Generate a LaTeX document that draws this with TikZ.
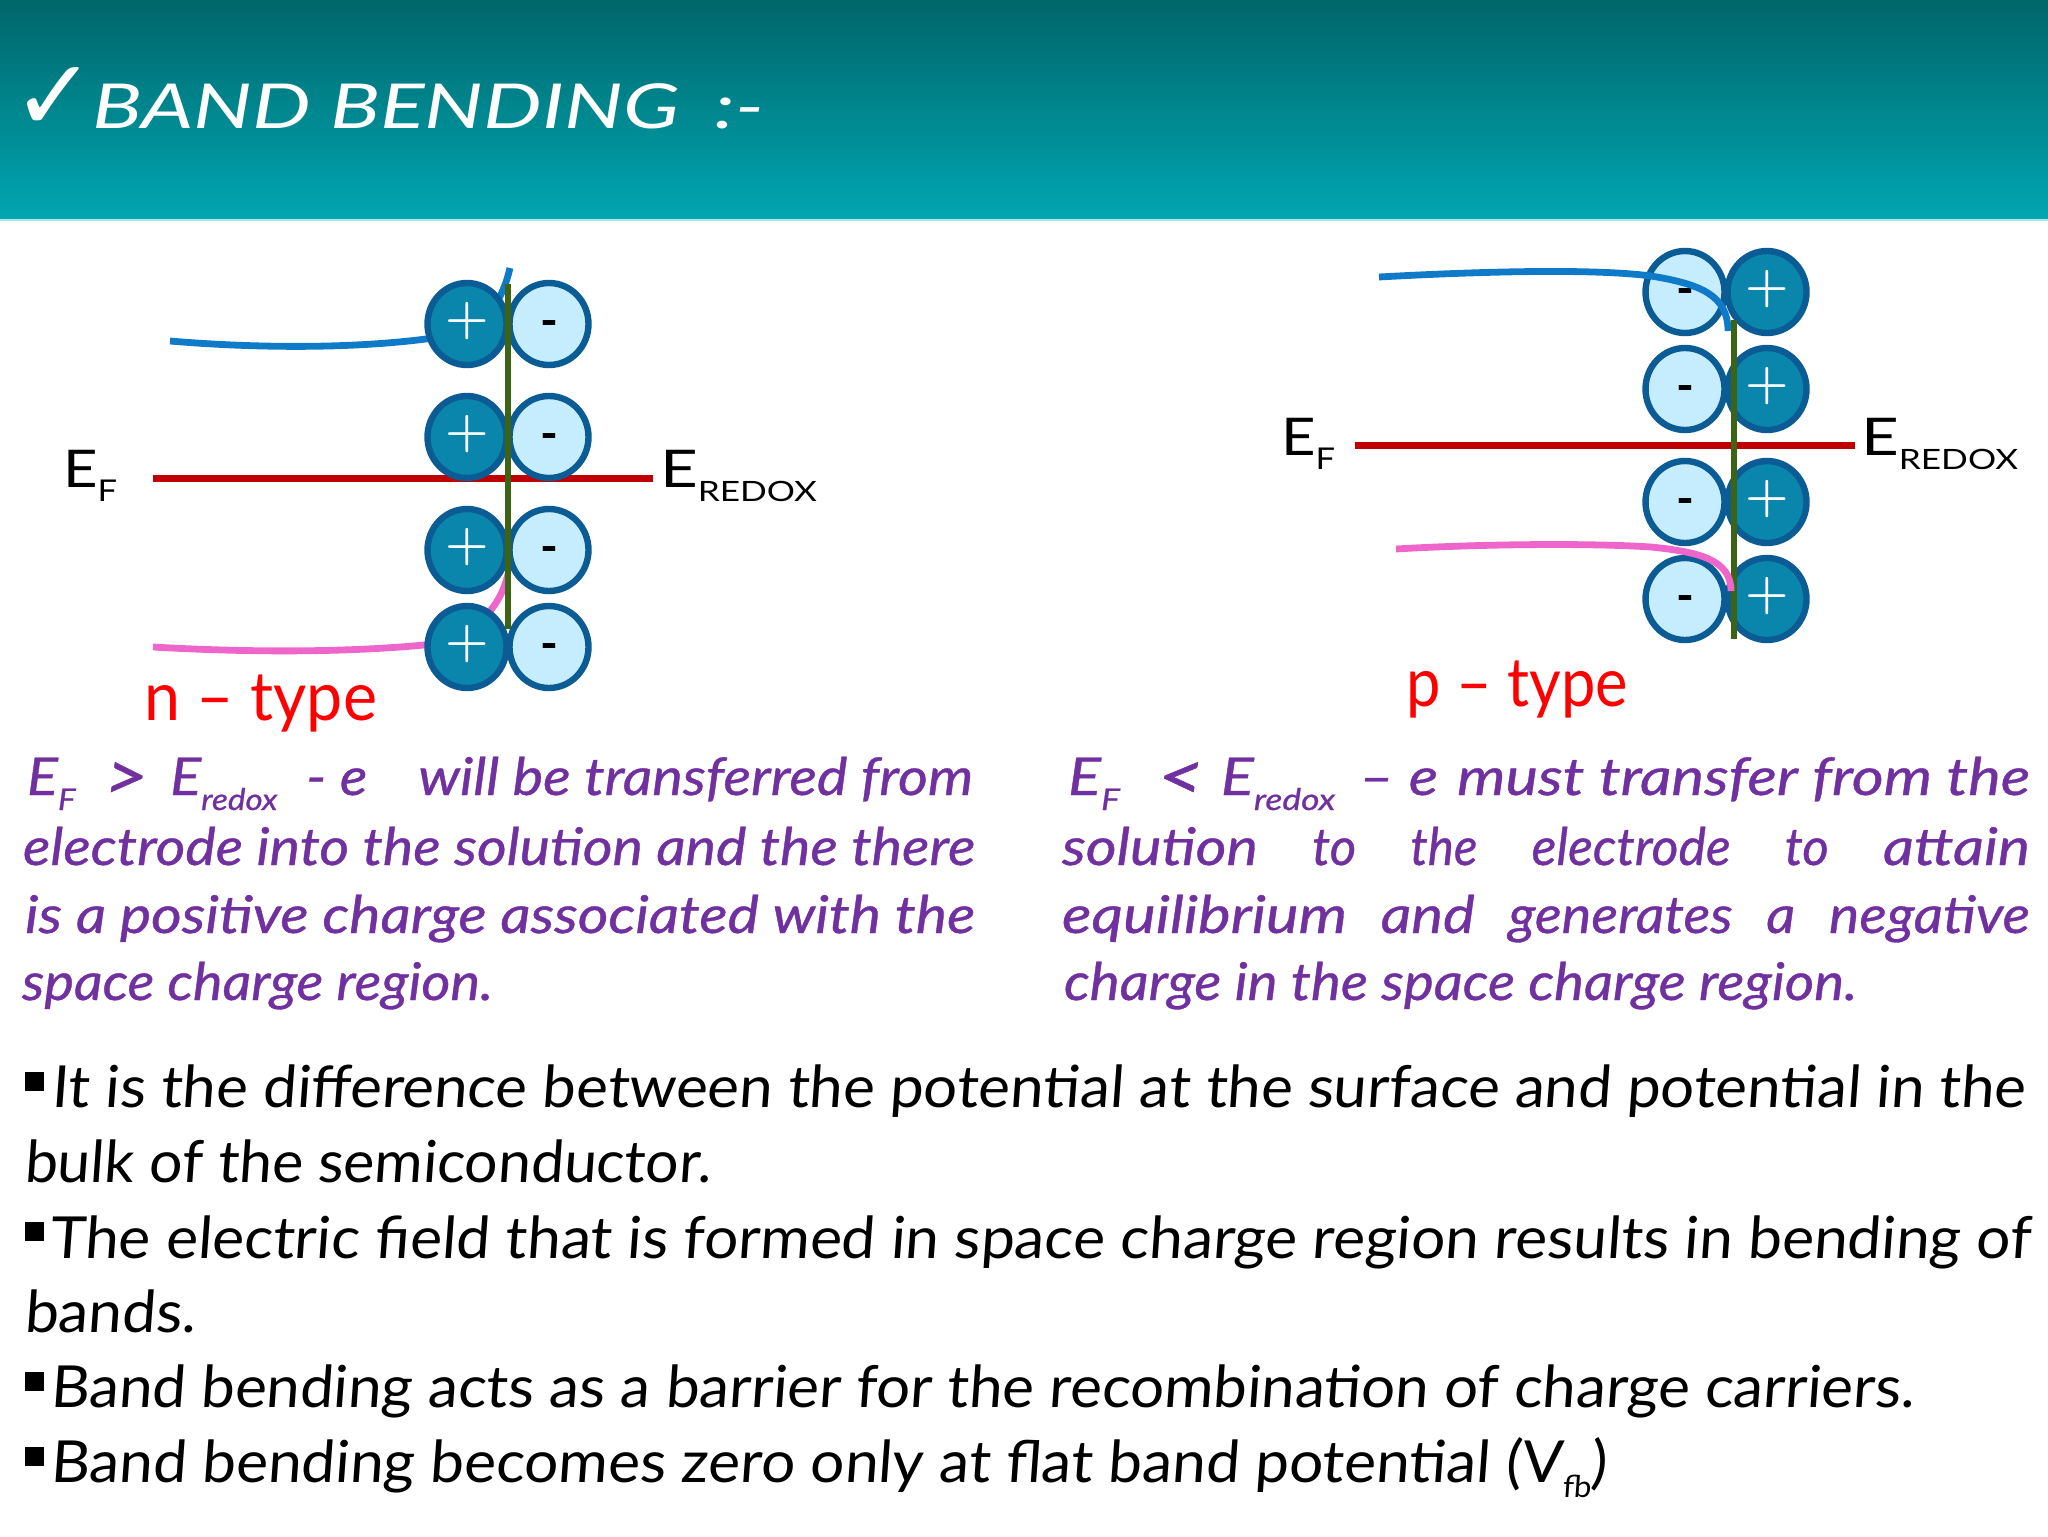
\documentclass[tikz,border=0pt]{standalone}
\usepackage{fontspec}
\usepackage{graphicx}
\usetikzlibrary{shapes.geometric}
\setmainfont{Lato}
\newfontfamily\checkfont{DejaVu Sans}
\newfontfamily\handfont[FakeSlant=0.07]{Lato}
\definecolor{hdtop}{HTML}{00666A}
\definecolor{hdbot}{HTML}{00A6B2}
\definecolor{hdline}{HTML}{A8E8E8}
\definecolor{posfill}{HTML}{0A86AD}
\definecolor{cellline}{HTML}{0B5B94}
\definecolor{negfill}{HTML}{C5EDFD}
\definecolor{wall}{HTML}{3C6414}
\definecolor{level}{HTML}{C00000}
\definecolor{bandblue}{HTML}{0F7AC8}
\definecolor{bandpink}{HTML}{EE66CC}
\definecolor{purpletext}{HTML}{7030A0}
\newsavebox\fitbox
\newcommand\fitto[2]{\sbox\fitbox{#2}\pgfmathsetmacro\fitk{#1*0.5/\the\wd\fitbox}\scalebox{\fitk}[1]{\usebox\fitbox}}
\newcommand\justto[2]{\makebox[0.5\dimexpr#1pt\relax][s]{#2}}
\newcommand\lowered[3]{\raisebox{-#1pt}{\fontsize{#2}{#2}\selectfont #3}}
\newcommand\relglyph[1]{\raisebox{-2.5pt}{\fontsize{34}{34}\selectfont #1}}
\newcommand\poslabel{\raisebox{-4.75pt}[0pt][0pt]{\boldmath$+$}}
\newcommand\neglabel{\raisebox{-6.5pt}[0pt][0pt]{-}}
\tikzset{
  poscell/.style={ellipse,draw=cellline,fill=posfill,line width=3.2pt,minimum width=39.5pt,minimum height=41pt,inner sep=0pt,text=white,font=\fontsize{27}{27}\selectfont},
  negcell/.style={ellipse,draw=cellline,fill=negfill,line width=3.2pt,minimum width=39.5pt,minimum height=41pt,inner sep=0pt,text=black,font=\bfseries\fontsize{24}{24}\selectfont},
  wallline/.style={draw=wall,line width=2.7pt},
  levelline/.style={draw=level,line width=3.5pt},
  bluecurve/.style={draw=bandblue,line width=3.4pt},
  pinkcurve/.style={draw=bandpink,line width=3.4pt},
  txt/.style={anchor=base west,inner sep=0pt,outer sep=0pt},
  purpleline/.style={txt,text=purpletext,font=\fontsize{26}{30}\selectfont\itshape\addfontfeatures{FakeBold=0.7}},
  blackline/.style={txt,text=black,font=\handfont\fontsize{29}{34}\selectfont},
  typelabel/.style={txt,text=red,font=\fontsize{34}{38}\selectfont},
  levellabel/.style={txt,text=black,font=\fontsize{26}{28}\selectfont},
  bulletmark/.style={fill=black,inner sep=0pt,minimum width=9.8pt,minimum height=9.5pt}
}
\begin{document}
\begin{tikzpicture}[x=0.5pt,y=-0.5pt]
\useasboundingbox (0,0) rectangle (2048,1536);
% header
\shade[top color=hdtop,bottom color=hdbot] (0,0) rectangle (2048,219);
\fill[hdline] (0,219) rectangle (2048,221);
\node[text=white,font=\checkfont\fontsize{50}{50}\selectfont,inner sep=0pt] (chk) at (54,99) {✓};
\node[txt,text=white,font=\itshape\fontsize{31}{34}\selectfont] (title) at (92,128) {\fitto{672}{BAND BENDING\hspace{13pt}:-}};
% n-type
\coordinate (nb1) at (170,341);
\coordinate (nb2) at (426,339);
\coordinate (nb3) at (510,268);
\coordinate (np1) at (153,647);
\coordinate (np2) at (424,645);
\coordinate (np3) at (508,574);
\coordinate (nr1) at (153,478);
\coordinate (nr2) at (653,478);
\coordinate (ng1) at (508,284);
\coordinate (ng2) at (508,629);
\draw[bluecurve] (nb1) .. controls (240,347) and (340,350) .. (nb2) .. controls (480,331) and (500,310) .. (nb3);
\draw[pinkcurve] (np1) .. controls (240,652) and (340,653) .. (np2) .. controls (470,640) and (500,610) .. (np3);
\draw[levelline] (nr1) -- (nr2);
\node[poscell] (na1) at (467,324) {\poslabel};
\node[negcell] (nc1) at (549,324) {\neglabel};
\node[poscell] (na2) at (467,437) {\poslabel};
\node[negcell] (nc2) at (549,437) {\neglabel};
\node[poscell] (na3) at (467,550) {\poslabel};
\node[negcell] (nc3) at (549,550) {\neglabel};
\node[poscell] (na4) at (467,647) {\poslabel};
\node[negcell] (nc4) at (549,647) {\neglabel};
\draw[wallline] (ng1) -- (ng2);
\node[levellabel] (nef) at (63,487) {\fitto{54}{E\lowered{7}{15}{F}}};
\node[levellabel] (ner) at (660,487) {\fitto{157}{E\lowered{7}{14}{REDOX}}};
\node[typelabel] (ntype) at (144,720) {\fitto{233}{n – type}};
% p-type
\coordinate (pb1) at (1379,277);
\coordinate (pb2) at (1651,276);
\coordinate (pb3) at (1728,331);
\coordinate (pp1) at (1396,549);
\coordinate (pp2) at (1651,547);
\coordinate (pp3) at (1731,591);
\coordinate (pr1) at (1355,445);
\coordinate (pr2) at (1855,445);
\coordinate (pg1) at (1734,320);
\coordinate (pg2) at (1734,639);
\draw[levelline] (pr1) -- (pr2);
\node[negcell] (pc1) at (1685,292) {\neglabel};
\node[poscell] (pa1) at (1767,292) {\poslabel};
\node[negcell] (pc2) at (1685,389) {\neglabel};
\node[poscell] (pa2) at (1767,389) {\poslabel};
\node[negcell] (pc3) at (1685,502) {\neglabel};
\node[poscell] (pa3) at (1767,502) {\poslabel};
\node[negcell] (pc4) at (1685,599) {\neglabel};
\node[poscell] (pa4) at (1767,599) {\poslabel};
\draw[wallline] (pg1) -- (pg2);
\draw[bluecurve] (pb1) .. controls (1470,272) and (1590,268) .. (pb2) .. controls (1700,284) and (1728,295) .. (pb3);
\draw[pinkcurve] (pp1) .. controls (1480,544) and (1590,543) .. (pp2) .. controls (1700,552) and (1731,560) .. (pp3);
\node[levellabel] (pef) at (1281,455) {\fitto{54}{E\lowered{7}{15}{F}}};
\node[levellabel] (per) at (1861,455) {\fitto{157}{E\lowered{7}{14}{REDOX}}};
\node[typelabel] (ptype) at (1406,706) {\fitto{222}{p – type}};
% purple paragraphs
\node[purpleline] (l1) at (27,795) {\fitto{946}{E\lowered{7.5}{15}{F}\hspace{13pt}\relglyph{>}\hspace{10pt}E\lowered{7.5}{15}{redox}\hspace{13pt}- e\hspace{23pt}will be transferred from}};
\node[purpleline] (l2) at (23,865) {\fitto{952}{electrode into the solution and the there}};
\node[purpleline] (l3) at (25,933) {\fitto{950}{is a positive charge associated with the}};
\node[purpleline] (l4) at (22,1000) {\fitto{471}{space charge region.}};
\node[purpleline] (r1) at (1068,795) {\fitto{962}{E\lowered{7.5}{15}{F}\hspace{16pt}\relglyph{<}\hspace{7pt}E\lowered{7.5}{15}{redox}\hspace{10pt}– e\hspace{8pt}must transfer from the}};
\node[purpleline] (r2) at (1062,865) {\justto{968}{\fitto{196}{solution}\hfill\fitto{44}{to}\hfill\fitto{67}{the}\hfill\fitto{199}{electrode}\hfill\fitto{44}{to}\hfill\fitto{147}{attain}}};
\node[purpleline] (r3) at (1062,933) {\justto{968}{\fitto{285}{equilibrium}\hfill\fitto{94}{and}\hfill\fitto{224}{generates}\hfill\fitto{29}{a}\hfill\fitto{201}{negative}}};
\node[purpleline] (r4) at (1064,1000) {\fitto{793}{charge in the space charge region.}};
% black text
\node[bulletmark] (b1) at (34.5,1081) {};
\node[bulletmark] (b2) at (34.5,1231) {};
\node[bulletmark] (b3) at (34.5,1381) {};
\node[bulletmark] (b4) at (34.5,1456) {};
\node[blackline] (t1) at (52,1107) {\fitto{1973}{It is the difference between the potential at the surface and potential in the}};
\node[blackline] (t2) at (24,1182) {\fitto{687}{bulk of the semiconductor.}};
\node[blackline] (t3) at (49,1258) {\fitto{1981}{The electric field that is formed in space charge region results in bending of}};
\node[blackline] (t4) at (24,1332) {\fitto{172}{bands.}};
\node[blackline] (t5) at (50,1407) {\fitto{1864}{Band bending acts as a barrier for the recombination of charge carriers.}};
\node[blackline] (t6) at (50,1482) {\fitto{1557}{Band bending becomes zero only at flat band potential (V\lowered{7.5}{15}{fb})}};
\end{tikzpicture}
\end{document}
